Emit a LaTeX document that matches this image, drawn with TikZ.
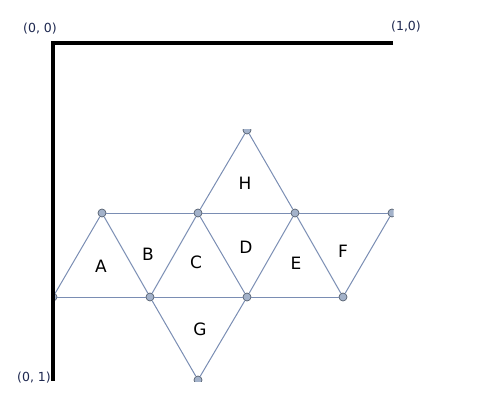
\documentclass[tikz,border=0pt]{standalone}
\usepackage{fontspec}
\setmainfont{DejaVu Sans}
\usepackage{tikz}
\definecolor{edgeblue}{HTML}{7A8DB3}
\definecolor{ptfill}{HTML}{A3B2CA}
\definecolor{ptdraw}{HTML}{55606F}
\definecolor{axtext}{HTML}{1E2850}

\begin{document}
\begin{tikzpicture}[x=1pt, y=-1pt,
	vert/.style = {draw=ptdraw, fill=ptfill, circle, inner sep=0pt, minimum size=8pt, line width=0.7pt},
	lab/.style = {font=\fontsize{17}{17}\selectfont},
	axlab/.style = {font=\fontsize{12.5}{12.5}\selectfont, text=axtext},
	side/.style = {draw=edgeblue, line width=1pt}]
				\useasboundingbox (0,0) rectangle (501,407);
				\begin{scope}
				\clip (53,129) rectangle (393.5,381.5);
				% lattice points
				\node[vert] (t) at (247,130) {};
				\node[vert] (a1) at (102,213) {};
				\node[vert] (a2) at (198,213) {};
				\node[vert] (a3) at (295,213) {};
				\node[vert] (a4) at (392,213) {};
				\node[vert] (b1) at (53,297) {};
				\node[vert] (b2) at (150,297) {};
				\node[vert] (b3) at (247,297) {};
				\node[vert] (b4) at (343,297) {};
				\node[vert] (g) at (198,380) {};
				
				\draw[side] (a1) -- (a2);
				\draw[side] (a2) -- (a3);
				\draw[side] (a3) -- (a4);
				\draw[side] (b1) -- (b2);
				\draw[side] (b2) -- (b3);
				\draw[side] (b3) -- (b4);
				\draw[side] (b1) -- (a1);
				\draw[side] (a1) -- (b2);
				\draw[side] (b2) -- (a2);
				\draw[side] (a2) -- (b3);
				\draw[side] (b3) -- (a3);
				\draw[side] (a3) -- (b4);
				\draw[side] (b4) -- (a4);
				\draw[side] (a2) -- (t);
				\draw[side] (t) -- (a3);
				\draw[side] (b2) -- (g);
				\draw[side] (g) -- (b3);
				\end{scope}
				
				% face labels
				\node[lab] (la) at (101,266) {A};
				\node[lab] (lb) at (148,254) {B};
				\node[lab] (lc) at (196,262) {C};
				\node[lab] (ld) at (246,247) {D};
				\node[lab] (le) at (296,263) {E};
				\node[lab] (lf) at (343,251) {F};
				\node[lab] (lg) at (200,329) {G};
				\node[lab] (lh) at (245,183) {H};
				
				% axes
				\coordinate (o) at (53,43);
				\coordinate (xe) at (393,43);
				\coordinate (ye) at (53,381);
				\draw[black, line width=4pt] (xe) -- (o) -- (ye);
				\node[axlab] (l00) at (40,29) {(0, 0)};
				\node[axlab] (l10) at (406,27) {(1,0)};
				\node[axlab] (l01) at (34,378) {(0, 1)};
			\end{tikzpicture}
\end{document}
